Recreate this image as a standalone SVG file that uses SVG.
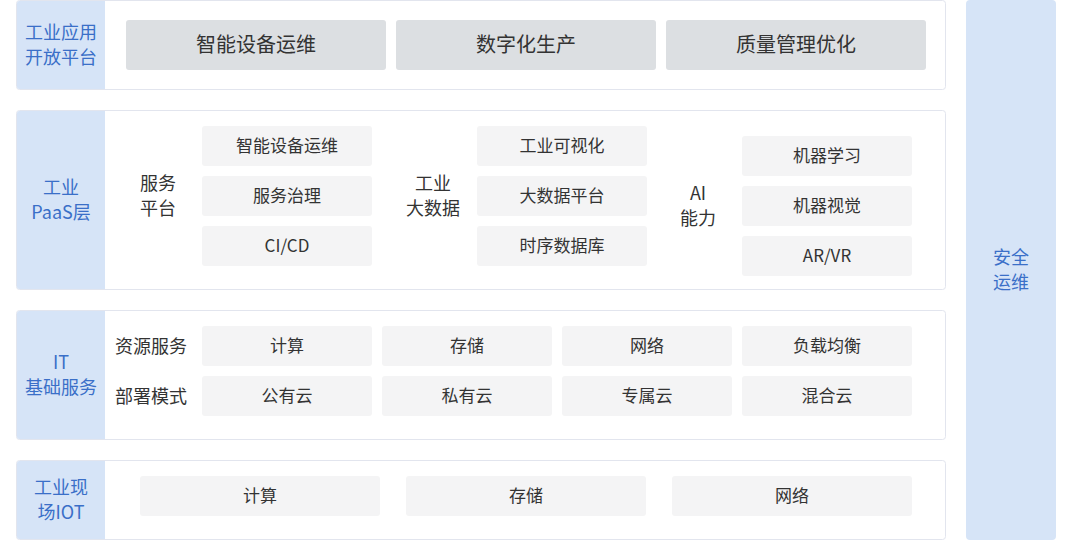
<svg xmlns="http://www.w3.org/2000/svg" width="1080" height="540" viewBox="0 0 1080 540">
<style>
.panel{fill:#ffffff;stroke:#e2e5ee;stroke-width:1}
.lab{fill:#d6e4f7}
.lt{font-family:"Noto Sans CJK SC","Noto Sans",sans-serif;font-size:18px;fill:#3a6fc8;text-anchor:middle}
.top{fill:#dcdfe2}
.box{fill:#f4f4f5}
.tt{font-family:"Noto Sans CJK SC","Noto Sans",sans-serif;font-size:20px;fill:#333;text-anchor:middle}
.bt{font-family:"Noto Sans CJK SC","Noto Sans",sans-serif;font-size:17px;fill:#333;text-anchor:middle}
.st{font-family:"Noto Sans CJK SC","Noto Sans",sans-serif;font-size:18px;fill:#333;text-anchor:middle}
</style>
<rect width="1080" height="540" fill="#ffffff"/>
<g id="row-app">
<rect class="panel" x="16.5" y="0.5" width="929" height="89" rx="3"/>
<path class="lab" d="M19.5 1 H105 V89 H19.5 Q17 89 17 86.5 V3.5 Q17 1 19.5 1Z"/>
<text class="lt" x="61" y="39">工业应用</text>
<text class="lt" x="61" y="64">开放平台</text>
<rect class="top" x="126" y="20" width="260" height="50" rx="3"/>
<text class="tt" x="256" y="52">智能设备运维</text>
<rect class="top" x="396" y="20" width="260" height="50" rx="3"/>
<text class="tt" x="526" y="52">数字化生产</text>
<rect class="top" x="666" y="20" width="260" height="50" rx="3"/>
<text class="tt" x="796" y="52">质量管理优化</text>
</g>
<g id="row-paas">
<rect class="panel" x="16.5" y="110.5" width="929" height="179" rx="3"/>
<path class="lab" d="M19.5 111 H105 V289 H19.5 Q17 289 17 286.5 V113.5 Q17 111 19.5 111Z"/>
<text class="lt" x="61" y="194">工业</text>
<text class="lt" x="61" y="219">PaaS层</text>
<text class="st" x="158" y="190">服务</text>
<text class="st" x="158" y="215">平台</text>
<rect class="box" x="202" y="126" width="170" height="40" rx="3"/>
<text class="bt" x="287" y="152">智能设备运维</text>
<rect class="box" x="202" y="176" width="170" height="40" rx="3"/>
<text class="bt" x="287" y="202">服务治理</text>
<rect class="box" x="202" y="226" width="170" height="40" rx="3"/>
<text class="bt" x="287" y="252">CI/CD</text>
<text class="st" x="433" y="190">工业</text>
<text class="st" x="433" y="215">大数据</text>
<rect class="box" x="477" y="126" width="170" height="40" rx="3"/>
<text class="bt" x="562" y="152">工业可视化</text>
<rect class="box" x="477" y="176" width="170" height="40" rx="3"/>
<text class="bt" x="562" y="202">大数据平台</text>
<rect class="box" x="477" y="226" width="170" height="40" rx="3"/>
<text class="bt" x="562" y="252">时序数据库</text>
<text class="st" x="698" y="200">AI</text>
<text class="st" x="698" y="225">能力</text>
<rect class="box" x="742" y="136" width="170" height="40" rx="3"/>
<text class="bt" x="827" y="162">机器学习</text>
<rect class="box" x="742" y="186" width="170" height="40" rx="3"/>
<text class="bt" x="827" y="212">机器视觉</text>
<rect class="box" x="742" y="236" width="170" height="40" rx="3"/>
<text class="bt" x="827" y="262">AR/VR</text>
</g>
<g id="row-it">
<rect class="panel" x="16.5" y="310.5" width="929" height="129" rx="3"/>
<path class="lab" d="M19.5 311 H105 V439 H19.5 Q17 439 17 436.5 V313.5 Q17 311 19.5 311Z"/>
<text class="lt" x="61" y="369">IT</text>
<text class="lt" x="61" y="394">基础服务</text>
<text class="st" x="151" y="353">资源服务</text>
<text class="st" x="151" y="403">部署模式</text>
<rect class="box" x="202" y="326" width="170" height="40" rx="3"/>
<text class="bt" x="287" y="352">计算</text>
<rect class="box" x="382" y="326" width="170" height="40" rx="3"/>
<text class="bt" x="467" y="352">存储</text>
<rect class="box" x="562" y="326" width="170" height="40" rx="3"/>
<text class="bt" x="647" y="352">网络</text>
<rect class="box" x="742" y="326" width="170" height="40" rx="3"/>
<text class="bt" x="827" y="352">负载均衡</text>
<rect class="box" x="202" y="376" width="170" height="40" rx="3"/>
<text class="bt" x="287" y="402">公有云</text>
<rect class="box" x="382" y="376" width="170" height="40" rx="3"/>
<text class="bt" x="467" y="402">私有云</text>
<rect class="box" x="562" y="376" width="170" height="40" rx="3"/>
<text class="bt" x="647" y="402">专属云</text>
<rect class="box" x="742" y="376" width="170" height="40" rx="3"/>
<text class="bt" x="827" y="402">混合云</text>
</g>
<g id="row-iot">
<rect class="panel" x="16.5" y="460.5" width="929" height="79" rx="3"/>
<path class="lab" d="M19.5 461 H105 V539 H19.5 Q17 539 17 536.5 V463.5 Q17 461 19.5 461Z"/>
<text class="lt" x="61" y="494">工业现</text>
<text class="lt" x="61" y="519">场IOT</text>
<rect class="box" x="140" y="476" width="240" height="40" rx="3"/>
<text class="bt" x="260" y="502">计算</text>
<rect class="box" x="406" y="476" width="240" height="40" rx="3"/>
<text class="bt" x="526" y="502">存储</text>
<rect class="box" x="672" y="476" width="240" height="40" rx="3"/>
<text class="bt" x="792" y="502">网络</text>
</g>
<g id="security">
<rect class="lab" x="966" y="0" width="90" height="540" rx="4"/>
<text class="lt" x="1011" y="264">安全</text>
<text class="lt" x="1011" y="289">运维</text>
</g>
<g id="connectors"></g>
</svg>
